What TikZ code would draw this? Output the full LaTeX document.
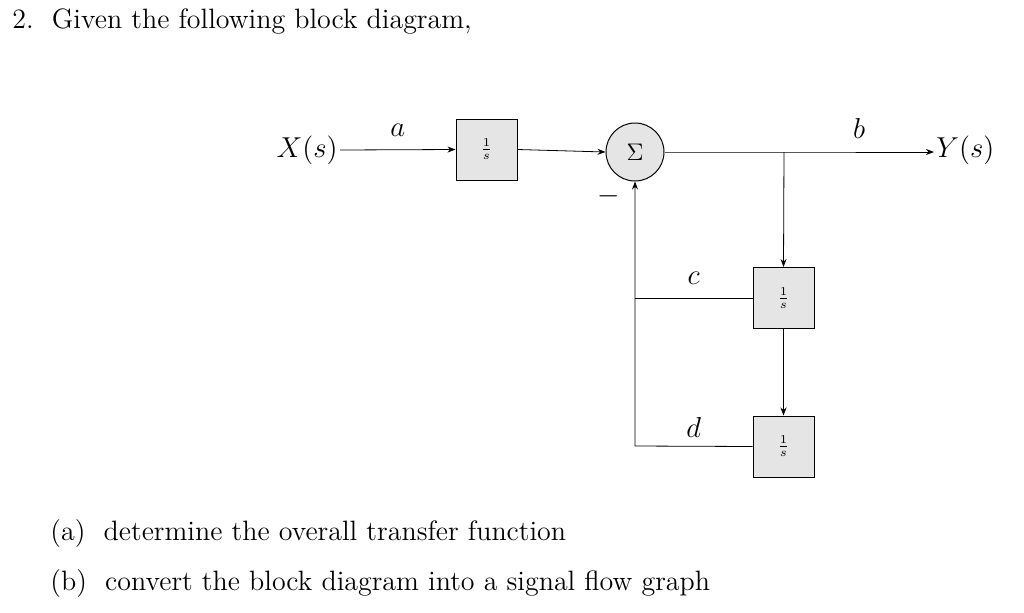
\documentclass[tikz,border=0pt]{standalone}
\usetikzlibrary{arrows.meta}
\begin{document}
\begin{tikzpicture}[x=0.5pt,y=-0.5pt,
  blk/.style={draw,fill=gray!20,minimum size=30.5pt,inner sep=0pt,line width=0.5pt,font=\fontsize{8}{9}\selectfont},
  sm/.style={draw,fill=gray!20,circle,minimum size=29pt,inner sep=0pt,line width=0.5pt,font=\fontsize{12}{14}\selectfont},
  ar/.style={-{Stealth[length=4pt,width=3pt]},line width=0.4pt},
  ln/.style={line width=0.4pt},
  lab/.style={font=\fontsize{14}{16}\selectfont},
  txt/.style={anchor=base west,font=\fontsize{14}{17}\selectfont,inner sep=0pt}]
\useasboundingbox (0,0) rectangle (1024,612);
\node[txt] (t) at (12,28) {2.\ \ Given the following block diagram,};
\node[txt] (qa) at (50,540) {(a)\ \ determine the overall transfer function};
\node[txt] (qb) at (50,590) {(b)\ \ convert the block diagram into a signal flow graph};
\node[lab,anchor=east,inner sep=1pt] (x) at (340,150) {$X(s)$};
\node[blk] (g1) at (486.5,149.5) {$\frac{1}{s}$};
\node[sm] (s) at (635,152) {$\Sigma$};
\node[blk] (g2) at (783.5,298) {$\frac{1}{s}$};
\node[blk] (g3) at (783.5,446.5) {$\frac{1}{s}$};
\node[lab,anchor=west,inner sep=1pt] (y) at (934,150) {$Y(s)$};
\coordinate (br) at (784,152);
\coordinate (fb) at (635,446);
\coordinate (fc) at (635,298);
\draw[ar] (x.east) -- (g1.west) node[lab,midway,above=3pt] {$a$};
\draw[ar] (g1.east) -- (s.west);
\draw[ar] (s.east) -- (br) -- (y.west|-br) node[lab,pos=0.5,above=3pt,xshift=0pt] {$b$};
\draw[ar] (br) -- (g2.north);
\draw[ar] (g2.south) -- (g3.north);
\draw[ln] (g2.west) -- (fc) node[lab,pos=0.5,above=3pt] {$c$};
\draw[ar] (g3.west) -- (fb) node[lab,pos=0.5,above=1pt] {$d$} -- (s.south);
\node[lab] (m) at (609,196) {$-$};
\end{tikzpicture}
\end{document}
